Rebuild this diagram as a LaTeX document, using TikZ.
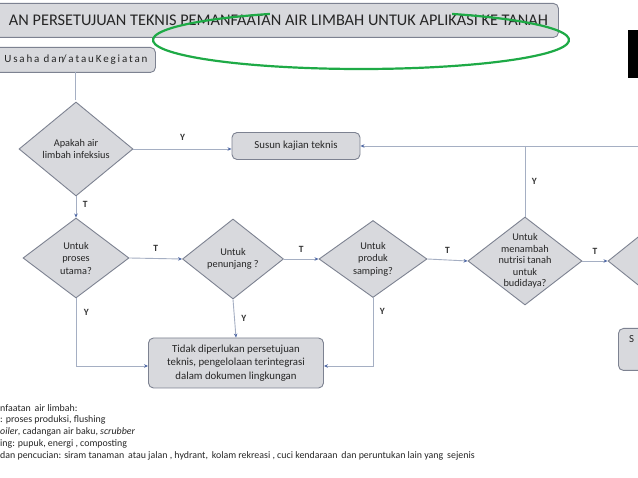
\documentclass[tikz,border=0pt]{standalone}
\usepackage{fontspec}
\setmainfont{Carlito}
\usetikzlibrary{shapes.geometric,arrows.meta}
\definecolor{boxfill}{RGB}{216,217,221}
\definecolor{boxline}{RGB}{125,130,145}
\definecolor{conn}{RGB}{165,175,195}
\definecolor{tipc}{RGB}{80,105,165}
\definecolor{ell}{RGB}{30,170,70}
\tikzset{
 dia/.style={diamond,draw=boxline,fill=boxfill,line width=0.9pt,inner sep=0pt},
 dtext/.style={align=center,inner sep=0pt,font=\fontsize{10.3}{12.5}\selectfont,text=black!85},
 rbox/.style={draw=boxline,fill=boxfill,line width=0.9pt,rounded corners=5pt,align=center,font=\fontsize{10.8}{13.5}\selectfont,text=black!85},
 con/.style={draw=conn,line width=0.9pt,-{Stealth[length=4pt,width=3.5pt,color=tipc]}},
 conn/.style={draw=conn,line width=0.9pt},
 lab/.style={font=\fontsize{9.5}{10}\selectfont\bfseries,text=black!80},
 foot/.style={anchor=west,inner sep=0pt,font=\fontsize{9.9}{11}\selectfont,text=black!85}
}
\begin{document}
\begin{tikzpicture}[x=1pt,y=-1pt]
\useasboundingbox (0,0) rectangle (638,478);
\clip (0,0) rectangle (638,478);
\fill[white] (0,0) rectangle (638,478);
% title
\node[rbox,anchor=north west,minimum width=568pt,minimum height=34pt,inner sep=0pt] (title) at (-10,3) {};
\node[anchor=east,inner sep=0pt,font=\fontsize{16.3}{18}\selectfont,text=black!85] (ttext) at (548,20) {AN PERSETUJUAN TEKNIS PEMANFAATAN AIR LIMBAH UNTUK APLIKASI KE TANAH};
\draw[ell,line width=2.2pt] (361,40) ++(116:208pt and 29pt) arc[start angle=116,end angle=424,x radius=208pt,y radius=29pt];
\fill[black] (628,30) rectangle (640,78);
% start box
\node[rbox,anchor=north west,minimum width=165pt,minimum height=25pt,font=\fontsize{11}{12}\selectfont] (start) at (-10,47) {\hspace*{6pt}U\,s\,a\,h\,a\, d\,a\,n\!/\,a\,t\,a\,u\,K\,e\,g\,i\,a\,t\,a\,n};
% diamonds
\node[dia,minimum width=114pt,minimum height=94pt] (d1) at (76,149) {};
\node[dtext] (t1) at (d1) {Apakah air\\limbah infeksius};
\node[dia,minimum width=106pt,minimum height=80pt] (d2) at (76,258) {};
\node[dtext] (t2) at (d2) {Untuk\\proses\\utama?};
\node[dia,minimum width=101pt,minimum height=80pt] (d3) at (233,259) {};
\node[dtext] (t3) at (d3) {Untuk\\penunjang ?};
\node[dia,minimum width=108pt,minimum height=77pt] (d4) at (373,259) {};
\node[dtext] (t4) at (d4) {Untuk\\produk\\samping?};
\node[dia,minimum width=114pt,minimum height=88pt] (d5) at (525,261) {};
\node[dtext,font=\fontsize{10.3}{11.5}\selectfont] (t5) at (d5) {Untuk\\menambah\\nutrisi tanah\\untuk\\budidaya?};
\node[dia,minimum width=110pt,minimum height=88pt] (d6) at (663,261) {};
% boxes
\node[rbox,minimum width=128pt,minimum height=27pt] (susun) at (296,146) {Susun kajian teknis};
\node[rbox,minimum width=175pt,minimum height=50pt] (tidak) at (236,363) {Tidak diperlukan persetujuan\\teknis, pengelolaan terintegrasi\\dalam dokumen lingkungan};
\node[rbox,anchor=north west,minimum width=60pt,minimum height=42pt] (sbox) at (618,328) {};
\node[anchor=west,inner sep=0pt,font=\fontsize{10.8}{12}\selectfont,text=black!85] (stext) at (629,339) {S};
% connectors
\coordinate (rt) at (640,146);
\coordinate (rj) at (525,146);
\draw[conn] (75,72) -- (75,100);
\draw[con] (d1.east) -- node[lab,above=5pt] {Y} (d1.east -| susun.west);
\draw[con] (d1.south) -- node[lab,right=3pt,pos=0.4] {T} (d2.north);
\draw[con] (rt) -- (susun.east);
\draw[conn] (rj) -- node[lab,right=3pt] {Y} (d5.north);
\draw[con] (d2.east) -- node[lab,above=3pt] {T} (d3.west);
\draw[con] (d3.east) -- node[lab,above=3pt] {T} (d4.west);
\draw[con] (d4.east) -- node[lab,above=3pt] {T} (d5.west);
\draw[con] (d5.east) -- node[lab,above=3pt] {T} (d6.west);
\draw[con] (d2.south) -- node[lab,right=4pt,pos=0.2] {Y} (76,366) -- (tidak.west |- 0,366);
\draw[con] (d3.south) -- node[lab,right=3pt] {Y} (tidak.north);
\draw[con] (d4.south) -- node[lab,right=3pt,pos=0.2] {Y} (373,366) -- (tidak.east |- 0,366);
% footer
\node[foot] (f1) at (0,408) {nfaatan\, air limbah:};
\node[foot] (f2) at (0,420) {: proses produksi, flushing};
\node[foot] (f3) at (0,432) {\textit{oiler}, cadangan air baku, \textit{scrubber}};
\node[foot] (f4) at (0,444) {ing: pupuk, energi , composting};
\node[foot] (f5) at (0,456) {dan pencucian: siram tanaman\, atau jalan , hydrant,\, kolam rekreasi , cuci kendaraan\, dan peruntukan lain yang\, sejenis};
\end{tikzpicture}
\end{document}
